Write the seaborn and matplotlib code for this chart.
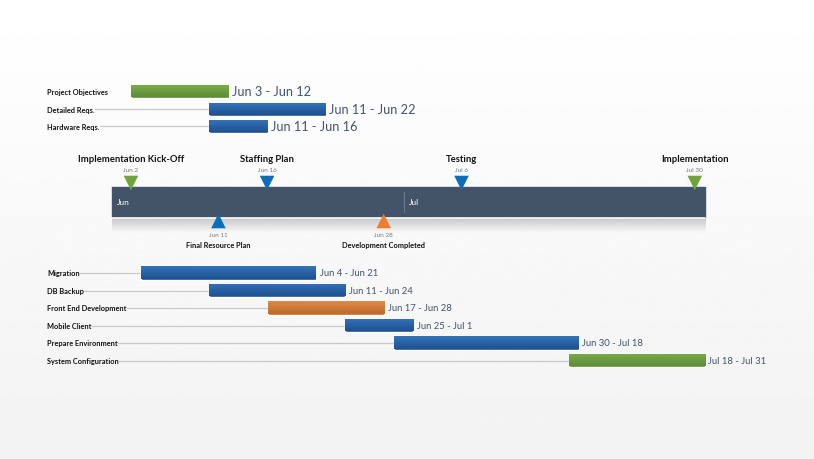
import numpy as np
import pandas as pd
import matplotlib.pyplot as plt
import matplotlib.colors as mcolors
import seaborn as sns

# task data
top_tasks = ["Project Objectives", "Detailed Reqs.", "Hardware Reqs."]
top_start = ["06-03", "06-11", "06-11"]
top_end = ["06-12", "06-22", "06-16"]
top_color = ["green", "blue", "blue"]

low_tasks = ["Migration", "DB Backup", "Front End Development", "Mobile Client",
             "Prepare Environment", "System Configuration"]
low_start = ["06-04", "06-11", "06-17", "06-25", "06-30", "07-18"]
low_end = ["06-21", "06-24", "06-28", "07-01", "07-18", "07-31"]
low_color = ["blue", "blue", "orange", "blue", "blue", "green"]

# milestones
ms_above = ["Implementation Kick-Off", "Staffing Plan", "Testing", "Implementation"]
ms_above_date = ["06-02", "06-16", "07-06", "07-30"]
ms_above_color = ["green", "blue", "blue", "green"]
ms_below = ["Final Resource Plan", "Development Completed"]
ms_below_date = ["06-11", "06-28"]
ms_below_color = ["blue", "orange"]

months = ["Jun", "Jul"]
month_start = ["06-01", "07-01"]
timeline_end = "08-01"

sns.set_style("white")
plt.rcParams['font.family'] = ['Lato', 'DejaVu Sans']

palette = {"blue": ("#3373bb", "#1f518f"), "green": ("#7cad4c", "#5e8b37"),
           "orange": ("#dc8a4b", "#bf6a2b")}
ms_pal = {"blue": "#0a6ebd", "green": "#6fa43a", "orange": "#ec7d31"}

YEAR = "2024-"
day0 = pd.Timestamp(YEAR + "06-01")


def day(s):
    return (pd.Timestamp(YEAR + s) - day0).days


def fmt(s):
    d = pd.Timestamp(YEAR + s)
    return f"{d:%b} {d.day}"


W, H = 814, 460
x0_px, x1_px = 112, 705
span = day(timeline_end)
ppd = (x1_px - x0_px) / span

fig = plt.figure(figsize=(W / 100, H / 100), dpi=100)
ax = fig.add_axes([0, 0, 1, 1])
xl, xr = -x0_px / ppd, (W - x0_px) / ppd
ax.set_xlim(xl, xr)
ax.set_ylim(H, 0)
ax.axis("off")
renderer = fig.canvas.get_renderer()

# background
bg = np.linspace(1.0, 0.95, 256).reshape(-1, 1)
ax.imshow(bg, cmap="gray", vmin=0, vmax=1, extent=[xl, xr, H, 0], aspect="auto", zorder=0)


def grad_bar(y, s, e, col, h):
    left = day(s)
    width = day(e) + 1 - left
    b = ax.barh(y, width, left=left, height=h, color=palette[col][1], zorder=3)[0]
    cm = mcolors.LinearSegmentedColormap.from_list("g", palette[col])
    im = ax.imshow(np.linspace(0, 1, 64).reshape(-1, 1), cmap=cm, aspect="auto",
                   extent=[left, left + width, y + h / 2 - 1, y - h / 2], zorder=4)
    im.set_clip_path(b)
    return left + width


def task_rows(names, starts, ends, cols, ys, h, fs, dfs, link_first=True):
    for i, (n, s, e, c, y) in enumerate(zip(names, starts, ends, cols, ys)):
        t = ax.text(-65 / ppd, y, n, fontsize=fs, fontweight="bold", va="center",
                    ha="left", color="#111111", zorder=5)
        if i > 0 or link_first:
            bb = t.get_window_extent(renderer)
            xs = ax.transData.inverted().transform((bb.x1, 0))[0]
            ax.plot([xs, day(s)], [y, y], color="#c9c9c9", lw=0.9, zorder=2)
        end = grad_bar(y, s, e, c, h)
        ax.text(end + 0.35, y, f"{fmt(s)} - {fmt(e)}", fontsize=dfs, va="center",
                ha="left", color="#44546a", zorder=5)


task_rows(top_tasks, top_start, top_end, top_color, [92.3, 110, 127.3], 13, 5.3, 9.2,
          link_first=False)
task_rows(low_tasks, low_start, low_end, low_color,
          [274, 291.5, 309, 326.5, 344, 361.5], 13.5, 5.3, 6.8)

# timeline band
band_top, band_bot = 187.5, 218
ax.fill_between([0, span], band_top, band_bot, color="#435368", zorder=3)
ax.plot([0, span], [band_bot + 0.8, band_bot + 0.8], color="white", lw=1.2, zorder=4)
shadow = np.zeros((64, 1, 4))
shadow[..., :3] = 0.55
shadow[:, 0, 3] = np.linspace(0.45, 0, 64)
ax.imshow(shadow, extent=[0, span, 234, band_bot + 1.5], aspect="auto", zorder=2)
for i, (m, ms) in enumerate(zip(months, month_start)):
    d = day(ms)
    if i > 0:
        ax.plot([d, d], [193, 213], color="#6a7a8e", lw=0.8, zorder=4)
    ax.text(d + 0.5, 203, m, color="white", fontsize=6, va="center", ha="left", zorder=5)

# milestones
up = pd.DataFrame({"x": [day(d) + 0.95 for d in ms_above_date], "y": 184,
                   "c": ms_above_color})
dn = pd.DataFrame({"x": [day(d) + 0.95 for d in ms_below_date], "y": 222,
                   "c": ms_below_color})
sns.scatterplot(data=up, x="x", y="y", hue="c", palette=ms_pal, marker="v", s=110,
                linewidth=0, legend=False, ax=ax, zorder=6)
sns.scatterplot(data=dn, x="x", y="y", hue="c", palette=ms_pal, marker="^", s=110,
                linewidth=0, legend=False, ax=ax, zorder=6)
for n, d, x in zip(ms_above, ms_above_date, up["x"]):
    ax.text(x, 160, n, fontsize=6.8, fontweight="bold", ha="center", va="center",
            color="#111111")
    ax.text(x, 171, fmt(d), fontsize=4.6, ha="center", va="center", color="#777777")
for n, d, x in zip(ms_below, ms_below_date, dn["x"]):
    ax.text(x, 236, fmt(d), fontsize=4.6, ha="center", va="center", color="#777777")
    ax.text(x, 246, n, fontsize=5.3, fontweight="bold", ha="center", va="center",
            color="#111111")

ax.set_xlim(xl, xr)
ax.set_ylim(H, 0)
fig.savefig("out.png", dpi=100)
